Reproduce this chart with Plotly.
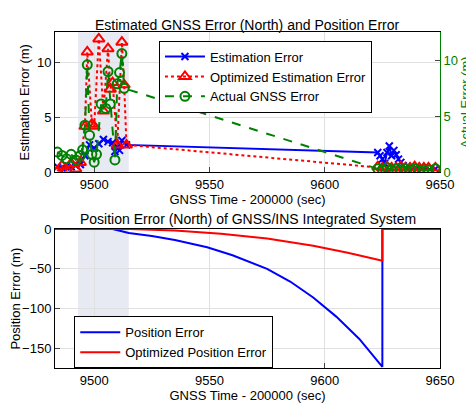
import plotly.graph_objects as go

est_x = [9484, 9486, 9488, 9490, 9492, 9494, 9496, 9498, 9500, 9502, 9504, 9506, 9508, 9509, 9510, 9511, 9512, 9514,
         9623, 9624, 9625, 9626, 9627, 9628, 9629, 9630, 9631, 9632, 9633, 9634, 9635, 9640, 9648]
est_y = [0.5, 0.4, 0.6, 0.5, 0.6, 0.7, 1.5, 2.5, 2.2, 2.6, 3.0, 2.8, 2.7, 1.9, 2.3, 2.0, 2.9, 2.5,
         1.8, 1.5, 1.2, 0.8, 1.8, 2.4, 1.5, 2.0, 1.6, 1.2, 0.9, 0.6, 0.4, 0.3, 0.3]

opt_x = [9484, 9486, 9488, 9490, 9492, 9494, 9496, 9497, 9499, 9500, 9502, 9504, 9506, 9507, 9508, 9510, 9512, 9513, 9514,
         9623, 9625, 9627, 9629, 9631, 9633, 9635, 9637, 9639, 9641, 9643, 9645, 9648]
opt_y = [0.1, 0.6, 0.2, 0.8, 0.3, 0.9, 4.2, 11.0, 4.4, 4.2, 12.2, 5.6, 11.3, 7.6, 8.2, 2.5, 11.9, 8.0, 2.5,
         0.5, 0.4, 0.5, 0.4, 0.4, 0.5, 0.4, 0.4, 0.5, 0.4, 0.4, 0.4, 0.4]

act_x = [9484, 9486, 9488, 9490, 9492, 9494, 9495, 9496, 9497, 9498, 9499, 9500, 9501, 9503, 9505, 9506, 9507, 9509,
         9510, 9511, 9512, 9513, 9623, 9625, 9627, 9629, 9631, 9633, 9635, 9637, 9639, 9641, 9643, 9645, 9648]
act_y = [1.8, 1.5, 1.2, 1.6, 1.1, 1.5, 2.0, 4.2, 9.6, 3.3, 1.6, 0.9, 1.6, 6.1, 5.7, 9.0, 6.1, 1.1,
         7.9, 8.9, 10.6, 7.5, 0.3, 0.2, 0.4, 0.2, 0.3, 0.2, 0.3, 0.2, 0.3, 0.2, 0.2, 0.2, 0.3]

pos_x = [9483, 9508, 9515, 9525, 9535, 9549, 9560, 9575, 9585, 9595, 9605, 9615, 9625, 9625.01, 9650]
pos_y = [0, 0, -5, -9, -14, -23, -33, -50, -66, -86, -110, -138, -173, 0, 0]

opt_pos_x = [9483, 9515, 9535, 9555, 9575, 9595, 9610, 9625, 9625.01, 9650]
opt_pos_y = [0, 0, -2, -6, -12, -21, -30, -40, 0, 0]

FONT = "Liberation Sans"
fig = go.Figure()
fig.add_trace(go.Scatter(x=est_x, y=est_y, name="Estimation Error", mode="lines+markers",
                         line=dict(color="#0000ff", width=2), marker=dict(symbol="x-thin", size=7, line=dict(color="#0000ff", width=2)),
                         xaxis="x", yaxis="y"))
fig.add_trace(go.Scatter(x=opt_x, y=opt_y, name="Optimized Estimation Error", mode="lines+markers",
                         line=dict(color="#ff0000", width=2, dash="dot"),
                         marker=dict(symbol="triangle-up-open", size=10, color="#ff0000", line=dict(width=2)),
                         xaxis="x", yaxis="y"))
fig.add_trace(go.Scatter(x=act_x, y=act_y, name="Actual GNSS Error", mode="lines+markers",
                         line=dict(color="#008000", width=2, dash="dash"),
                         marker=dict(symbol="circle-open", size=9, color="#008000", line=dict(width=2)),
                         xaxis="x", yaxis="y2"))
fig.add_trace(go.Scatter(x=pos_x, y=pos_y, name="Position Error", mode="lines",
                         line=dict(color="#0000ff", width=2), xaxis="x3", yaxis="y3", legend="legend2"))
fig.add_trace(go.Scatter(x=opt_pos_x, y=opt_pos_y, name="Optimized Position Error", mode="lines",
                         line=dict(color="#ff0000", width=2), xaxis="x3", yaxis="y3", legend="legend2"))

TF = dict(size=13, color="black")
ax = dict(showline=True, linecolor="black", mirror=True, ticks="inside", showgrid=True, gridcolor="#e0e0e0",
          zeroline=False, tickfont=dict(size=13, color="black"))
fig.update_layout(
    width=474, height=409, margin=dict(l=47, r=42, t=0, b=0),
    plot_bgcolor="white", paper_bgcolor="white", font=dict(family=FONT, size=13, color="black"),
    xaxis=dict(ax, domain=[0, 1], range=[9483, 9650], tickvals=[9500, 9550, 9600, 9650], anchor="y",
               title=dict(text="GNSS Time - 200000 (sec)", standoff=2, font=TF)),
    yaxis=dict(ax, domain=[0.601, 0.956], range=[0, 12.8], tickvals=[0, 5, 10], mirror=False,
               title=dict(text="Estimation Error (m)", standoff=4, font=TF)),
    yaxis2=dict(ax, overlaying="y", side="right", anchor="x", range=[0, 12.5], tickvals=[0, 5, 10],
                showgrid=False, mirror=False, linecolor="#008000", tickfont=dict(size=13, color="#008000"),
                title=dict(text="Actual Error (m)", font=dict(size=13, color="#008000"), standoff=2)),
    xaxis3=dict(ax, domain=[0, 1], range=[9483, 9650], tickvals=[9500, 9550, 9600, 9650], anchor="y3",
                title=dict(text="GNSS Time - 200000 (sec)", standoff=2, font=TF)),
    yaxis3=dict(ax, domain=[0.103, 0.457], range=[-175, 0], tickvals=[0, -50, -100, -150], anchor="x3",
                title=dict(text="Position Error (m)", standoff=4, font=TF)),
    legend=dict(x=0.27, y=0.935, xanchor="left", yanchor="top", bgcolor="white", bordercolor="black",
                borderwidth=1, font=dict(size=13), tracegroupgap=0, itemwidth=40),
    legend2=dict(x=0.05, y=0.235, xanchor="left", yanchor="top", bgcolor="white", bordercolor="black",
                 borderwidth=1, font=dict(size=13), itemwidth=40),
    shapes=[dict(type="rect", xref="x", yref="y domain", x0=9493, x1=9515, y0=0, y1=1,
                 fillcolor="#dde0ee", opacity=0.7, line_width=0, layer="below"),
            dict(type="rect", xref="x3", yref="y3 domain", x0=9493, x1=9515, y0=0, y1=1,
                 fillcolor="#dde0ee", opacity=0.7, line_width=0, layer="below")],
    annotations=[dict(text="Estimated GNSS Error (North) and Position Error", xref="paper", yref="paper",
                      x=0.5, y=1.0, xanchor="center", yanchor="top", showarrow=False, font=dict(size=14)),
                 dict(text="Position Error (North) of GNSS/INS Integrated System", xref="paper", yref="paper",
                      x=0.5, y=0.457, xanchor="center", yanchor="bottom", showarrow=False, font=dict(size=14))],
)
fig.write_html("out.html")
